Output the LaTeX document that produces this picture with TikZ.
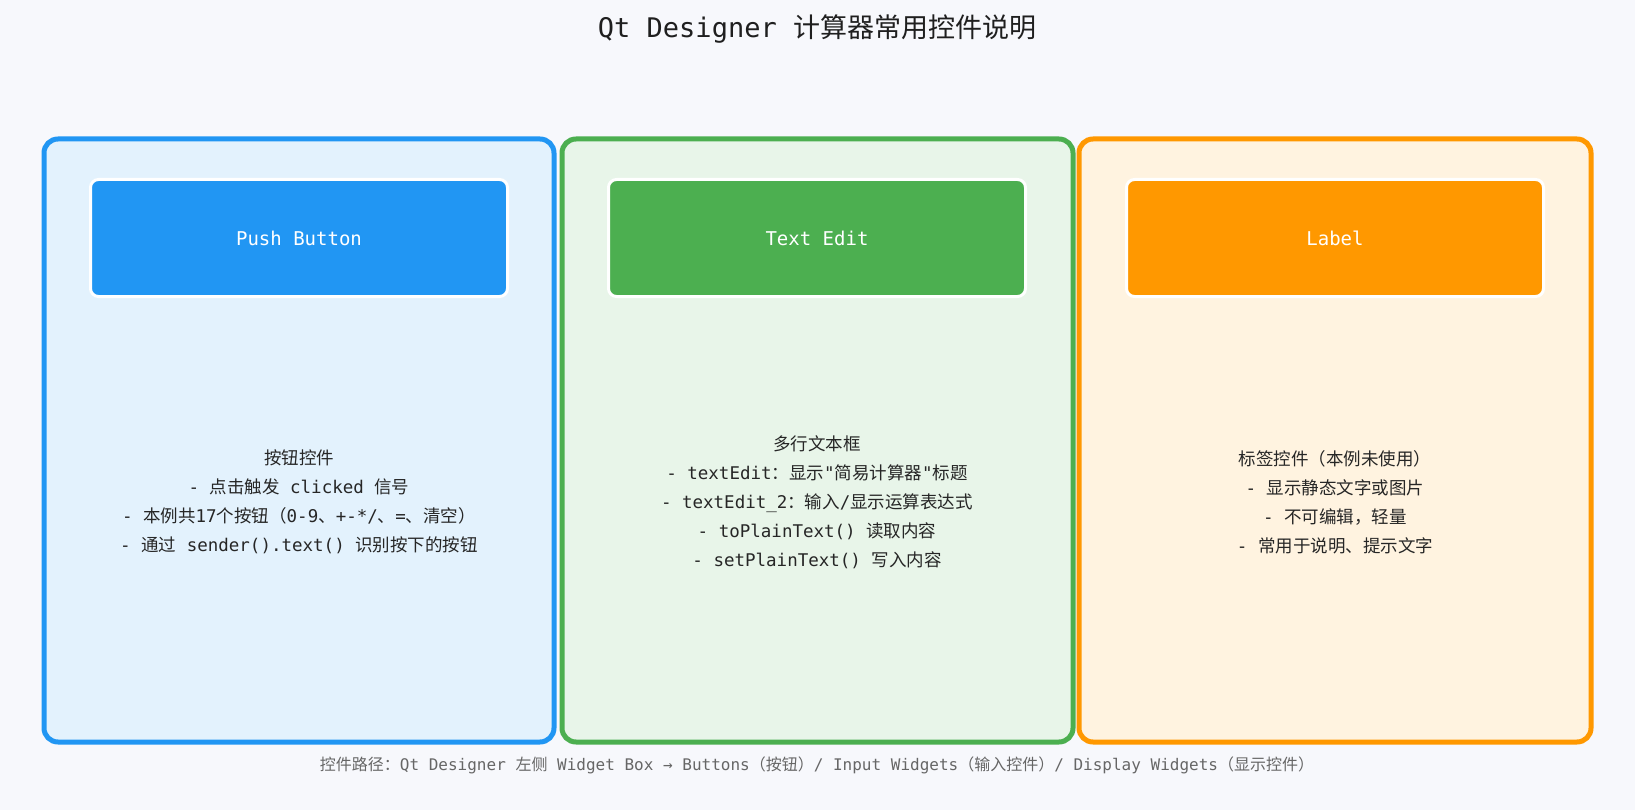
\documentclass[tikz,border=0pt]{standalone}
\usepackage{fontspec}
\setmainfont{DejaVu Sans Mono}
\newfontfamily\plainf{DejaVu Sans Mono}
\newfontfamily\zhf{Noto Sans CJK SC}
\newcommand\zh[1]{{\zhf #1}}
\begin{document}
\begin{tikzpicture}[x=1pt,y=-1pt,
  panel/.style={draw,line width=5pt,rounded corners=14pt},
  btn/.style={draw=white,line width=3pt,rounded corners=8pt,minimum width=417pt,minimum height=117pt,text=white,font=\fontsize{19}{21}\selectfont},
  body/.style={align=center,text=black!85,font=\fontsize{17.5}{29}\selectfont}]
\definecolor{bg}{HTML}{F7F8FC}
\definecolor{cb}{HTML}{2196F3}\definecolor{fb}{HTML}{E3F2FD}
\definecolor{cg}{HTML}{4CAF50}\definecolor{fg}{HTML}{E8F5E9}
\definecolor{co}{HTML}{FF9800}\definecolor{fo}{HTML}{FFF3E0}
\fill[bg] (0,0) rectangle (1635,810);
\useasboundingbox (0,0) rectangle (1635,810);
\node (title) at (817,29) {\fontsize{27}{30}\selectfont\color{black!88}Qt Designer \zh{计算器常用控件说明}};
\draw[panel,cb,fill=fb] (44,139) rectangle (554,742);
\draw[panel,cg,fill=fg] (562,139) rectangle (1073,742);
\draw[panel,co,fill=fo] (1079,139) rectangle (1591,742);
\node[btn,fill=cb] (b1) at (299,238) {Push Button};
\node[btn,fill=cg] (b2) at (817,238) {Text Edit};
\node[btn,fill=co] (b3) at (1335,238) {Label};
\node[body] (t1) at (299,502) {\zh{按钮控件}\\- \zh{点击触发} clicked \zh{信号}\\- \zh{本例共}17\zh{个按钮（}0-9\zh{、}+-*/\zh{、}=\zh{、清空）}\\- \zh{通过} sender().text() \zh{识别按下的按钮}};
\node[body] (t2) at (817,502) {\zh{多行文本框}\\- textEdit\zh{：显示}{\plainf"}\zh{简易计算器}{\plainf"}\zh{标题}\\- textEdit\_2\zh{：输入}/\zh{显示运算表达式}\\- toPlainText() \zh{读取内容}\\- setPlainText() \zh{写入内容}};
\node[body] (t3) at (1335,502) {\zh{标签控件（本例未使用）}\\- \zh{显示静态文字或图片}\\- \zh{不可编辑，轻量}\\- \zh{常用于说明、提示文字}};
\node (foot) at (817,765) {\fontsize{16}{18}\selectfont\color{black!60}\zh{控件路径：}Qt Designer \zh{左侧} Widget Box → Buttons\zh{（按钮）}/ Input Widgets\zh{（输入控件）}/ Display Widgets\zh{（显示控件）}};
\end{tikzpicture}
\end{document}
